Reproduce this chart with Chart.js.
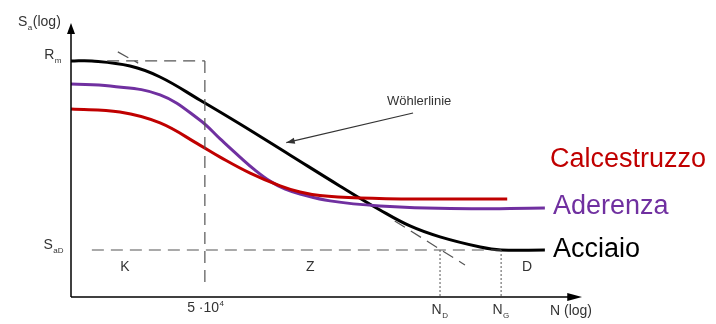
<!DOCTYPE html>
<html>
<head>
<meta charset="utf-8">
<script src="https://cdn.jsdelivr.net/npm/chart.js@4.4.0/dist/chart.umd.min.js"></script>
<style>
  html, body { margin: 0; padding: 0; background: #fff; }
  #wrap { width: 716px; height: 324px; }
</style>
</head>
<body>
<div id="wrap"><canvas id="woehler" width="716" height="324"></canvas></div>
<script>
// Schematic units: N (log) 0..100 left to right, S_a (log) 0..100 bottom to top
const acciaioX = [0, 4.1, 11.6, 17.5, 25.3, 33.2, 43.0, 52.8, 60.7, 66.6, 72.5, 80.4, 84.5, 93.1];
const acciaioY = [88.4, 88.4, 86.5, 82.4, 73.8, 64.8, 53.2, 41.6, 32.6, 26.6, 22.5, 18.7, 17.6, 17.6];

const aderenzaX = [0, 7.7, 17.5, 25.3, 29.3, 33.2, 36.1, 39.1, 42.1, 45.0, 50.9, 60.7, 74.5, 93.1];
const aderenzaY = [79.8, 79.0, 75.7, 66.3, 59.2, 52.4, 47.6, 43.4, 40.4, 38.6, 36.0, 34.1, 33.1, 33.3];

const calcestruzzoX = [0, 9.6, 17.5, 25.3, 29.3, 35.2, 41.1, 45.0, 48.9, 56.8, 68.6, 85.7];
const calcestruzzoY = [70.4, 69.3, 65.2, 56.9, 52.4, 46.4, 41.6, 39.3, 38.0, 37.1, 36.7, 36.7];

// reference levels / cycle counts
const levelRm = 88.4;
const levelSaD = 17.6;
const cycles5e4 = 26.3;
const cyclesND = 72.5;
const cyclesNG = 84.5;

// dashed tangent pieces of the Wöhler line
const tangentTopX = [9.2, 13.2];
const tangentTopY = [91.8, 87.6];
const tangentLowX = [63.6, 77.4];
const tangentLowY = [28.5, 12.0];

const pts = (xs, ys) => xs.map((x, i) => ({ x: x, y: ys[i] }));

function curve(label, xs, ys, color) {
    return {
        label: label,
        data: pts(xs, ys),
        borderColor: color,
        borderWidth: 3,
        pointRadius: 0,
        tension: 0.4,
        fill: false
    };
}

function guide(xs, ys, dash, width) {
    return {
        label: '',
        data: pts(xs, ys),
        borderColor: '#555',
        borderWidth: width,
        borderDash: dash,
        pointRadius: 0,
        tension: 0,
        fill: false
    };
}

// axes, arrow and all texts
const sketchPlugin = {
    id: 'sketch',
    afterDatasetsDraw(chart) {
        const c = chart.ctx;
        const xs = chart.scales.x, ys = chart.scales.y;
        const px = v => xs.getPixelForValue(v);
        const py = v => ys.getPixelForValue(v);
        const x0 = px(0), y0 = py(0);

        c.save();
        c.strokeStyle = '#000';
        c.fillStyle = '#000';
        c.lineWidth = 1.5;
        // y axis
        c.beginPath();
        c.moveTo(x0, y0); c.lineTo(x0, py(100));
        c.stroke();
        c.beginPath();
        c.moveTo(x0, py(102.6)); c.lineTo(x0 - 4, py(98.5)); c.lineTo(x0 + 4, py(98.5));
        c.closePath(); c.fill();
        // x axis
        c.beginPath();
        c.moveTo(x0, y0); c.lineTo(px(98), y0);
        c.stroke();
        c.beginPath();
        c.moveTo(px(100.4), y0); c.lineTo(px(97.5), y0 - 4); c.lineTo(px(97.5), y0 + 4);
        c.closePath(); c.fill();

        // Wöhlerlinie pointer
        const ax = px(67.2), ay = py(68.9), bx = px(42.3), by = py(57.8);
        c.strokeStyle = '#333';
        c.fillStyle = '#333';
        c.lineWidth = 1.2;
        c.beginPath(); c.moveTo(ax, ay); c.lineTo(bx, by); c.stroke();
        const ang = Math.atan2(by - ay, bx - ax);
        c.beginPath();
        c.moveTo(bx, by);
        c.lineTo(bx - 9 * Math.cos(ang - 0.35), by - 9 * Math.sin(ang - 0.35));
        c.lineTo(bx - 9 * Math.cos(ang + 0.35), by - 9 * Math.sin(ang + 0.35));
        c.closePath(); c.fill();

        // small labels
        const small = '14px "Liberation Sans", Arial, sans-serif';
        const tiny = '8px "Liberation Sans", Arial, sans-serif';
        c.fillStyle = '#333';
        c.textBaseline = 'middle';

        function subText(main, sub, x, y, align, tail, up) {
            c.font = small;
            const wm = c.measureText(main).width;
            c.font = tiny;
            const ws = c.measureText(sub).width;
            c.font = small;
            const wt = tail ? c.measureText(tail).width : 0;
            const total = wm + ws + 1 + wt;
            let sx = x;
            if (align === 'right') sx = x - total;
            if (align === 'center') sx = x - total / 2;
            c.textAlign = 'left';
            c.font = small;
            c.fillText(main, sx, y);
            c.font = tiny;
            c.fillText(sub, sx + wm + 0.5, y + (up ? -4 : 6));
            if (tail) {
                c.font = small;
                c.fillText(tail, sx + wm + ws + 1, y);
            }
        }

        subText('S', 'a', 18, 22, 'left', '(log)');
        subText('R', 'm', 62, py(levelRm) - 6, 'right');
        subText('S', 'aD', 64, py(levelSaD) - 5, 'right');
        subText('N', 'D', px(cyclesND), y0 + 13, 'center');
        subText('N', 'G', px(cyclesNG), y0 + 13, 'center');
        subText('5 \u00b710', '4', px(cycles5e4) + 1, y0 + 11, 'center', '', true);

        c.font = small;
        c.textAlign = 'left';
        c.fillText('N (log)', 550, y0 + 14);

        c.textAlign = 'center';
        c.fillText('K', px(10.6), py(11));
        c.fillText('Z', px(47), py(11));
        c.fillText('D', px(89.6), py(11));

        c.font = '13px "Liberation Sans", Arial, sans-serif';
        c.fillText('W\u00f6hlerlinie', px(68.4), py(73.4));

        // material names
        const big = '27px "Liberation Sans", Arial, sans-serif';
        c.font = big;
        c.textAlign = 'left';
        c.fillStyle = '#c00000';
        c.fillText('Calcestruzzo', 550, py(51.3));
        c.fillStyle = '#7030a0';
        c.fillText('Aderenza', 553, py(34));
        c.fillStyle = '#000';
        c.fillText('Acciaio', 553, py(17.6));
        c.restore();
    }
};

new Chart(document.getElementById('woehler').getContext('2d'), {
    type: 'line',
    data: {
        datasets: [
            guide([7.1, cycles5e4], [levelRm, levelRm], [12, 7], 1.2),
            guide([cycles5e4, cycles5e4], [levelRm, 4.5], [12, 7], 1.2),
            guide([4.1, cyclesNG], [levelSaD, levelSaD], [12, 7], 1.2),
            guide(tangentTopX, tangentTopY, [12, 7], 1.2),
            guide(tangentLowX, tangentLowY, [12, 7], 1.2),
            guide([cyclesND, cyclesND], [levelSaD, 0], [2, 2], 1),
            guide([cyclesNG, cyclesNG], [levelSaD, 0], [2, 2], 1),
            curve('Calcestruzzo', calcestruzzoX, calcestruzzoY, '#c00000'),
            curve('Aderenza', aderenzaX, aderenzaY, '#7030a0'),
            curve('Acciaio', acciaioX, acciaioY, '#000000')
        ]
    },
    options: {
        responsive: false,
        animation: false,
        layout: { padding: { left: 71, right: 136, top: 30, bottom: 27 } },
        scales: {
            x: { type: 'linear', min: 0, max: 100, display: false },
            y: { type: 'linear', min: 0, max: 100, display: false }
        },
        elements: { line: { clip: false } },
        plugins: {
            legend: { display: false },
            tooltip: { enabled: false }
        }
    },
    plugins: [sketchPlugin]
});
</script>
</body>
</html>
